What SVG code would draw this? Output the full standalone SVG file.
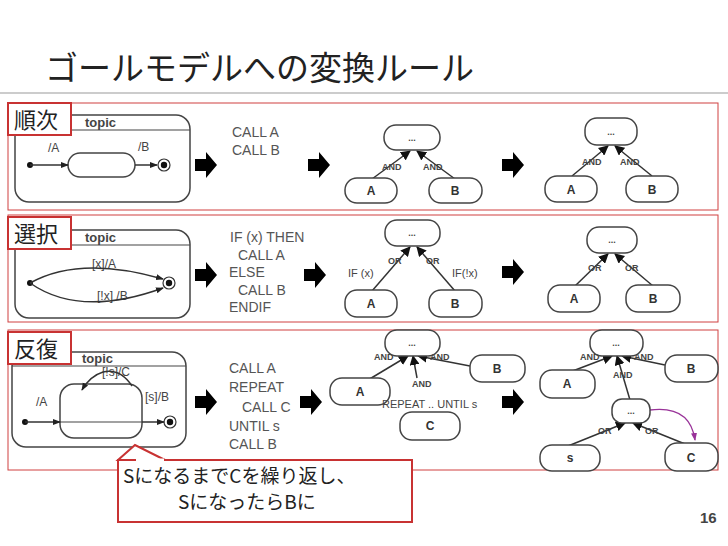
<svg xmlns="http://www.w3.org/2000/svg" width="728" height="546" viewBox="0 0 728 546">
<style>
.sec{fill:none;stroke:#d04040;stroke-width:1}
.lab{fill:#fff;stroke:#c83232;stroke-width:2}
.jp{font-family:"Noto Sans CJK JP","Liberation Sans",sans-serif;fill:#222}
.ln{stroke:#333;stroke-width:1.5;fill:none}
.bx{fill:#fff;stroke:#444;stroke-width:1.5}
.t{font-family:"Liberation Sans",Arial,sans-serif;fill:#444}
.code{font-family:"Liberation Sans",Arial,sans-serif;font-size:14px;fill:#555}
.sm{font-family:"Liberation Sans",Arial,sans-serif;font-size:9px;font-weight:bold;fill:#444}
.nd{font-family:"Liberation Sans",Arial,sans-serif;font-size:12px;font-weight:bold;fill:#333}
</style>
<defs>
<marker id="ah" markerWidth="10" markerHeight="10" refX="9" refY="5" orient="auto" markerUnits="userSpaceOnUse"><path d="M0,0L10,5L0,10z" fill="#111"/></marker>
<marker id="sa" markerWidth="8" markerHeight="8" refX="7" refY="4" orient="auto" markerUnits="userSpaceOnUse"><path d="M0,1L8,4L0,7z" fill="#222"/></marker>
<marker id="pa" markerWidth="8" markerHeight="8" refX="7" refY="4" orient="auto" markerUnits="userSpaceOnUse"><path d="M0,1L8,4L0,7z" fill="#993399"/></marker>
<path id="blk" d="M0,-6H11V-13L22,0L11,13V6H0z" fill="#000"/>
<g id="fin"><circle r="6" fill="#fff" stroke="#333" stroke-width="1.2"/><circle r="3.2" fill="#111"/></g>
</defs>
<rect width="728" height="546" fill="#fff"/>
<text x="45" y="80" class="jp" font-size="33" fill="#333">ゴールモデルへの変換ルール</text>
<line x1="0" y1="93" x2="728" y2="93" stroke="#999" stroke-width="1"/>

<g id="sections">
<rect class="sec" x="8" y="103" width="710" height="107"/>
<rect class="sec" x="8" y="215" width="710" height="107"/>
<rect class="sec" x="8" y="330" width="710" height="140"/>
</g>

<!-- section 1 state -->
<g id="state1">
<rect class="bx" x="15" y="115" width="175" height="87" rx="14"/>
<line x1="15" y1="130" x2="190" y2="130" stroke="#444" stroke-width="1.2"/>
<text x="85" y="127" class="t" font-size="13" font-weight="bold">topic</text>
<circle cx="30" cy="165" r="3" fill="#111"/>
<rect class="bx" x="68" y="153" width="67" height="24" rx="12"/>
<text x="48" y="152" class="t" font-size="12">/A</text>
<text x="138" y="151" class="t" font-size="12">/B</text>
<use href="#fin" x="164" y="165"/>
</g>
<g id="lab1"><rect class="lab" x="8" y="103" width="63" height="32"/><text x="14" y="128" class="jp" font-size="22">順次</text></g>

<g id="state2">
<rect class="bx" x="15" y="230" width="175" height="88" rx="14"/>
<line x1="15" y1="245" x2="190" y2="245" stroke="#444" stroke-width="1.2"/>
<text x="85" y="242" class="t" font-size="13" font-weight="bold">topic</text>
<circle cx="30" cy="283" r="3" fill="#111"/>
<use href="#fin" x="169" y="283"/>
<text x="92" y="268" class="t" font-size="12">[x]/A</text>
<text x="97" y="300" class="t" font-size="12">[!x] /B</text>
</g>
<g id="lab2"><rect class="lab" x="8" y="217" width="63" height="32"/><text x="14" y="242" class="jp" font-size="22">選択</text></g>

<g id="state3">
<rect class="bx" x="12" y="352" width="174" height="95" rx="14"/>
<line x1="12" y1="366" x2="186" y2="366" stroke="#444" stroke-width="1.2"/>
<text x="82" y="363" class="t" font-size="13" font-weight="bold">topic</text>
<rect class="bx" x="60" y="384" width="82" height="54" rx="14"/>
<line x1="60" y1="422" x2="142" y2="422" stroke="#444" stroke-width="1.2"/>
<circle cx="25" cy="422" r="3" fill="#111"/>
<use href="#fin" x="170" y="422"/>
<text x="36" y="406" class="t" font-size="12">/A</text>
<text x="102" y="376" class="t" font-size="12">[!s]/C</text>
<text x="145" y="401" class="t" font-size="12">[s]/B</text>
</g>
<g id="lab3"><rect class="lab" x="8" y="332" width="63" height="32"/><text x="14" y="357" class="jp" font-size="22">反復</text></g>

<g id="connectors">
<line class="ln" x1="30" y1="165" x2="68" y2="165" marker-end="url(#sa)"/>
<line class="ln" x1="135" y1="165" x2="157" y2="165" marker-end="url(#sa)"/>
<path class="ln" d="M30,283 Q80,255 163,279" marker-end="url(#sa)"/>
<path class="ln" d="M30,283 Q80,318 163,288" marker-end="url(#sa)"/>
<line class="ln" x1="25" y1="422" x2="60" y2="422" marker-end="url(#sa)"/>
<line class="ln" x1="142" y1="422" x2="164" y2="422" marker-end="url(#sa)"/>
<path class="ln" d="M132,386 Q120,368 103,372 Q90,376 82,390" marker-end="url(#sa)"/>
<!-- tree1 -->
<line class="ln" x1="372" y1="179" x2="410" y2="151" marker-end="url(#ah)"/>
<line class="ln" x1="455" y1="179" x2="417" y2="151" marker-end="url(#ah)"/>
<line class="ln" x1="572" y1="176" x2="608" y2="146" marker-end="url(#ah)"/>
<line class="ln" x1="652" y1="176" x2="615" y2="146" marker-end="url(#ah)"/>
<!-- tree2 -->
<line class="ln" x1="372" y1="291" x2="410" y2="247" marker-end="url(#ah)"/>
<line class="ln" x1="455" y1="291" x2="417" y2="247" marker-end="url(#ah)"/>
<line class="ln" x1="575" y1="286" x2="608" y2="254" marker-end="url(#ah)"/>
<line class="ln" x1="653" y1="286" x2="615" y2="254" marker-end="url(#ah)"/>
<!-- tree3 -->
<line class="ln" x1="368" y1="380" x2="408" y2="356" marker-end="url(#ah)"/>
<line class="ln" x1="470" y1="366" x2="418" y2="356" marker-end="url(#ah)"/>
<line class="ln" x1="417" y1="378" x2="413" y2="356" marker-end="url(#ah)"/>
<line class="ln" x1="570" y1="372" x2="612" y2="356" marker-end="url(#ah)"/>
<line class="ln" x1="665" y1="365" x2="622" y2="356" marker-end="url(#ah)"/>
<line class="ln" x1="630" y1="400" x2="617" y2="356" marker-end="url(#ah)"/>
<line class="ln" x1="568" y1="446" x2="625" y2="423" marker-end="url(#ah)"/>
<line class="ln" x1="690" y1="446" x2="633" y2="423" marker-end="url(#ah)"/>
<path d="M650,410 Q690,405 695,440" fill="none" stroke="#993399" stroke-width="1.3" marker-end="url(#pa)"/>
</g>

<g id="bigarrows">
<use href="#blk" x="195" y="165"/><use href="#blk" x="308" y="165"/><use href="#blk" x="502" y="165"/>
<use href="#blk" x="195" y="275"/><use href="#blk" x="304" y="275"/><use href="#blk" x="502" y="272"/>
<use href="#blk" x="195" y="402"/><use href="#blk" x="300" y="402"/><use href="#blk" x="502" y="402"/>
</g>

<g id="code">
<text class="code"><tspan x="232" y="137">CALL  A</tspan><tspan x="232" y="155">CALL B</tspan></text>
<text class="code"><tspan x="230" y="242">IF (x) THEN</tspan><tspan x="238" y="260">CALL  A</tspan><tspan x="229" y="277">ELSE</tspan><tspan x="238" y="295">CALL B</tspan><tspan x="229" y="312">ENDIF</tspan></text>
<text class="code"><tspan x="229" y="373">CALL A</tspan><tspan x="229" y="392">REPEAT</tspan><tspan x="242" y="412">CALL C</tspan><tspan x="229" y="431">UNTIL s</tspan><tspan x="229" y="449">CALL B</tspan></text>
</g>

<g id="tree1">
<rect class="bx" x="384" y="125" width="56" height="25" rx="12"/><text x="412" y="141" class="sm" text-anchor="middle">...</text>
<rect class="bx" x="345" y="178" width="52" height="25" rx="12"/><text x="371" y="195" class="nd" text-anchor="middle">A</text>
<rect class="bx" x="429" y="178" width="53" height="25" rx="12"/><text x="455" y="195" class="nd" text-anchor="middle">B</text>
<text x="382" y="170" class="sm">AND</text><text x="423" y="170" class="sm">AND</text>
</g>
<g id="tree1b">
<rect class="bx" x="585" y="118" width="52" height="27" rx="12"/><text x="611" y="135" class="sm" text-anchor="middle">...</text>
<rect class="bx" x="545" y="176" width="52" height="26" rx="12"/><text x="571" y="194" class="nd" text-anchor="middle">A</text>
<rect class="bx" x="626" y="176" width="52" height="26" rx="12"/><text x="652" y="194" class="nd" text-anchor="middle">B</text>
<text x="582" y="165" class="sm">AND</text><text x="620" y="165" class="sm">AND</text>
</g>
<g id="tree2">
<rect class="bx" x="385" y="220" width="55" height="26" rx="12"/><text x="412" y="236" class="sm" text-anchor="middle">...</text>
<rect class="bx" x="345" y="290" width="52" height="27" rx="12"/><text x="371" y="308" class="nd" text-anchor="middle">A</text>
<rect class="bx" x="429" y="290" width="53" height="27" rx="12"/><text x="455" y="308" class="nd" text-anchor="middle">B</text>
<text x="348" y="277" class="t" font-size="11">IF (x)</text><text x="388" y="264" class="sm">OR</text>
<text x="426" y="264" class="sm">OR</text><text x="452" y="277" class="t" font-size="11">IF(!x)</text>
</g>
<g id="tree2b">
<rect class="bx" x="587" y="227" width="50" height="26" rx="12"/><text x="612" y="243" class="sm" text-anchor="middle">...</text>
<rect class="bx" x="548" y="285" width="52" height="27" rx="12"/><text x="574" y="303" class="nd" text-anchor="middle">A</text>
<rect class="bx" x="626" y="285" width="54" height="27" rx="12"/><text x="653" y="303" class="nd" text-anchor="middle">B</text>
<text x="588" y="271" class="sm">OR</text><text x="625" y="271" class="sm">OR</text>
</g>
<g id="tree3">
<rect class="bx" x="385" y="330" width="55" height="26" rx="12"/><text x="412" y="346" class="sm" text-anchor="middle">...</text>
<rect class="bx" x="330" y="378" width="60" height="27" rx="12"/><text x="360" y="396" class="nd" text-anchor="middle">A</text>
<rect class="bx" x="470" y="355" width="55" height="27" rx="12"/><text x="497" y="373" class="nd" text-anchor="middle">B</text>
<rect class="bx" x="400" y="412" width="60" height="28" rx="12"/><text x="430" y="430" class="nd" text-anchor="middle">C</text>
<text x="374" y="360" class="sm">AND</text><text x="430" y="360" class="sm">AND</text><text x="412" y="387" class="sm">AND</text>
<text x="382" y="408" class="t" font-size="11">REPEAT .. UNTIL s</text>
</g>
<g id="tree3b">
<rect class="bx" x="590" y="330" width="53" height="26" rx="12"/><text x="616" y="346" class="sm" text-anchor="middle">...</text>
<rect class="bx" x="540" y="370" width="55" height="28" rx="12"/><text x="567" y="388" class="nd" text-anchor="middle">A</text>
<rect class="bx" x="665" y="355" width="53" height="27" rx="12"/><text x="691" y="373" class="nd" text-anchor="middle">B</text>
<text x="580" y="360" class="sm">AND</text><text x="634" y="360" class="sm">AND</text><text x="613" y="378" class="sm">AND</text>
<rect class="bx" x="612" y="399" width="38" height="24" rx="10"/><text x="631" y="414" class="sm" text-anchor="middle">...</text>
<rect class="bx" x="540" y="445" width="60" height="26" rx="12"/><text x="570" y="462" class="nd" text-anchor="middle">s</text>
<rect class="bx" x="665" y="443" width="53" height="28" rx="12"/><text x="691" y="462" class="nd" text-anchor="middle">C</text>
<text x="598" y="434" class="sm">OR</text><text x="645" y="434" class="sm">OR</text>
</g>

<g id="callout">
<path d="M118,460H165L135,445Z" fill="#fff" stroke="#c83232" stroke-width="2" stroke-linejoin="miter"/>
<rect x="118" y="460" width="294" height="62" fill="#fff" stroke="#c83232" stroke-width="2"/>
<line x1="136" y1="460" x2="164" y2="460" stroke="#fff" stroke-width="3"/>
<text x="123" y="483" class="jp" font-size="19">SになるまでCを繰り返し、</text>
<text x="178" y="509" class="jp" font-size="19">SになったらBに</text>
</g>
<text x="700" y="523" class="t" font-size="15" font-weight="bold" fill="#222">16</text>
</svg>
